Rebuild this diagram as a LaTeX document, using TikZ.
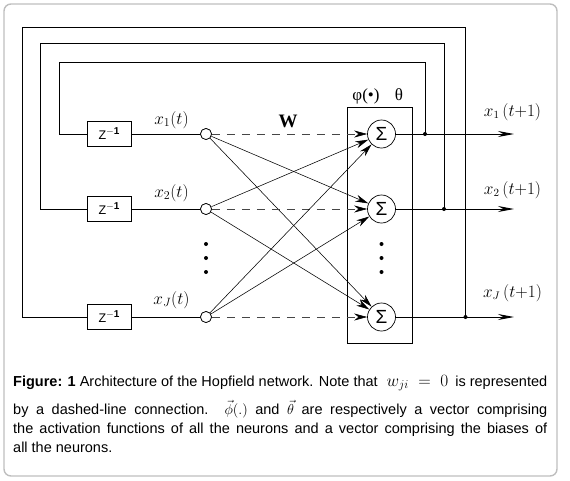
\documentclass[tikz,border=0pt]{standalone}
\usepackage{fontspec}
\setmainfont{Liberation Sans}
\newfontfamily\greekfont{Liberation Serif}
\usepackage{amsmath}
\usepackage{tikz}
\usetikzlibrary{positioning, arrows.meta}
\definecolor{framegray}{RGB}{190,190,190}
\definecolor{dashgray}{RGB}{70,70,70}
\newcommand{\delaytext}{Z\raisebox{5pt}{\fontsize{10}{10}\selectfont$-$\textbf{1}}}
\newcommand{\capmath}[1]{{\fontsize{17}{17}\selectfont$#1$}}
\newcommand{\vecmath}[1]{{\fontsize{15.5}{15.5}\selectfont$#1$}}
\tikzset{
  delaybox/.style = {rectangle, draw, line width=0.9pt, minimum width=44pt,
                     minimum height=25pt, inner sep=0pt,
                     font=\fontsize{12.5}{12.5}\selectfont},
  inpnode/.style  = {circle, draw, line width=0.7pt, minimum size=11pt,
                     inner sep=0pt, fill=white},
  sumnode/.style  = {circle, draw, line width=0.7pt, minimum size=28pt,
                     inner sep=0pt, font=\fontsize{19}{19}\selectfont},
  inlabel/.style  = {font=\fontsize{17}{17}\selectfont, inner sep=0pt, anchor=base},
  outlabel/.style = {font=\fontsize{16}{16}\selectfont, inner sep=0pt, anchor=base},
  greeklabel/.style = {font=\greekfont\fontsize{17}{17}\selectfont, inner sep=0pt, anchor=base},
  hopwire/.style  = {line width=0.9pt},
  hoparrow/.style = {-{Stealth[length=13pt,width=7pt,color=black]}, line width=0.55pt},
  selfarrow/.style = {hoparrow, draw=dashgray, dash pattern=on 8pt off 7pt},
  outarrow/.style = {-{Stealth[length=16pt,width=6pt]}, line width=0.9pt},
  captext/.style  = {font=\fontsize{14.5}{17}\selectfont, inner sep=0pt, anchor=base west}
}

\begin{document}
\begin{tikzpicture}[x=1pt, y=-1pt]
\useasboundingbox (0,0) rectangle (570,480);
\draw[framegray, line width=1.4pt, rounded corners=7pt] (4,4) rectangle (557,476);

% layer of summing units
\node[draw, line width=0.9pt, minimum width=65pt, minimum height=236pt] (layer) at (379.5,225) {};
\node[greeklabel] (philab) at (366,100) {φ(•)};
\node[greeklabel] (thlab) at (399,100) {θ};

% delays, inputs, neurons
\node[delaybox] (delay1) at (109,134) {\delaytext};
\node[delaybox] (delay2) at (109,209) {\delaytext};
\node[delaybox] (delay3) at (109,317) {\delaytext};
\node[inpnode] (in1) at (206,134) {};
\node[inpnode] (in2) at (206,209) {};
\node[inpnode] (in3) at (206,317) {};
\node[sumnode] (sum1) at (381.5,134) {Σ};
\node[sumnode] (sum2) at (381.5,209) {Σ};
\node[sumnode] (sum3) at (381.5,317) {Σ};

\node[inlabel] (xin1) at (171.5,124) {$x_1(t)$};
\node[inlabel] (xin2) at (171.5,197) {$x_2(t)$};
\node[inlabel] (xin3) at (171.5,304) {$x_J(t)$};
\node[inlabel, font=\greekfont\bfseries\fontsize{19}{19}\selectfont] (wlab) at (288,127) {W};

% outputs and junctions
\coordinate (t1) at (514,134);
\coordinate (t2) at (514,209);
\coordinate (t3) at (514,317);
\coordinate (o1) at (425,134);
\coordinate (o2) at (444,209);
\coordinate (o3) at (465.5,317);
\node[outlabel] (xout1) at (512.5,116) {$x_1\,(t{+}1)$};
\node[outlabel] (xout2) at (512.5,194) {$x_2\,(t{+}1)$};
\node[outlabel] (xout3) at (512.5,297) {$x_J\,(t{+}1)$};

% feedback corners
\coordinate (c1) at (59.5,62.5);
\coordinate (c2) at (40,43.5);
\coordinate (c3) at (22,27.5);

\foreach \i in {1,2,3}{
  \draw[hopwire] (o\i) |- (c\i) |- (delay\i.west);
  \draw[hopwire] (delay\i.east) -- (in\i.west);
  \draw[outarrow] (sum\i) -- (t\i);
  \fill (o\i) circle (2pt);
}
\foreach \i in {1,2,3}{
  \foreach \j in {1,2,3}{
    \ifnum\i=\j
      \draw[selfarrow] (in\i) -- (sum\j);
    \else
      \draw[hoparrow] (in\i) -- (sum\j);
    \fi
  }
}
\node[inpnode] at (in1) {};
\node[inpnode] at (in2) {};
\node[inpnode] at (in3) {};

% vertical dots
\foreach \y in {244,258,272}{
  \fill (206,\y) circle (2pt);
  \fill (381.5,\y) circle (2pt);
}

% caption
\node[captext] (cap1) at (13,386) {\makebox[534pt][l]{\textbf{Figure: 1} Architecture of the Hopfield network. Note that\hspace{9pt}\capmath{w_{ji}\;=\;0}\hfill is represented}};
\node[captext] (cap2) at (13,414) {\makebox[534pt][s]{by a dashed-line connection. \vecmath{\vec{\phi}(.)} and \vecmath{\vec{\theta}} are respectively a vector comprising}};
\node[captext] (cap3) at (13,433) {\makebox[534pt][s]{the activation functions of all the neurons and a vector comprising the biases of}};
\node[captext] (cap4) at (13,452) {all the neurons.};
\end{tikzpicture}
\end{document}
